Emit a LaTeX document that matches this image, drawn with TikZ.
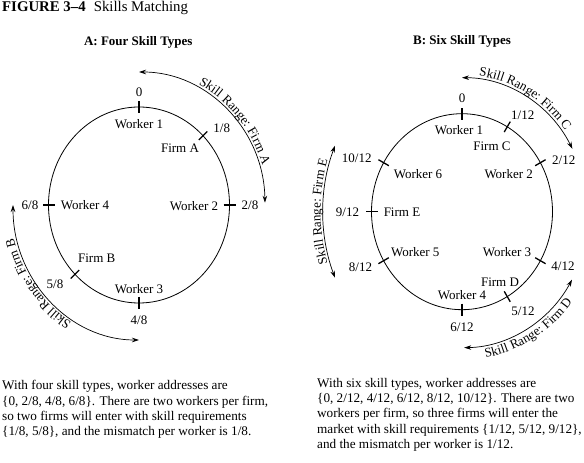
\documentclass[tikz,border=0pt]{standalone}
\usepackage{fontspec}
\setmainfont{Liberation Serif}
\usetikzlibrary{calc,arrows.meta,decorations.text}
\newcommand\lblfont{\fontsize{13}{15}\selectfont}
\newcommand\capfont{\fontsize{13.2}{15.3}\selectfont}
\begin{document}
\begin{tikzpicture}[x=1pt,y=1pt,
  lbl/.style={font=\lblfont, inner sep=0pt},
  ring/.style={line width=0.8pt},
  tickmark/.style={line width=1.3pt},
  rangearc/.style={line width=0.7pt, {Stealth[length=7pt,width=4.5pt]}-{Stealth[length=7pt,width=4.5pt]}},
  arctext/.style={decorate, decoration={text along path, text align=center, text={|\lblfont|#1}}},
  caption/.style={anchor=north west, align=left, inner sep=0pt, font=\capfont}
  ]
\useasboundingbox (0,0) rectangle (584,463);

% titles
\node[anchor=west, inner sep=0pt, font=\fontsize{14.8}{17}\selectfont] (title) at (2,454.7) {\textbf{FIGURE 3–4}\hspace{0.55em}Skills Matching};
\node[font=\lblfont\bfseries, inner sep=0pt] (headA) at (138.3,421) {A: Four Skill Types};
\node[font=\lblfont\bfseries, inner sep=0pt] (headB) at (462,422) {B: Six Skill Types};

% centres
\coordinate (cA) at (139,258);
\coordinate (cB) at (462,251.3);
\coordinate (cE) at (510.5,251.3);

% rings
\draw[ring] (cA) ellipse [x radius=90.5, y radius=98];
\draw[ring] (cB) ellipse [x radius=90.5, y radius=98];

% ticks
\foreach \t in {90,45,0,-90,-135,180}
  \draw[tickmark] ($(cA)+({84.5*cos(\t)},{92*sin(\t)})$) -- ($(cA)+({96.5*cos(\t)},{104*sin(\t)})$);
\foreach \t in {90,60,30,-30,-60,-90,-150,180,150}
  \draw[tickmark] ($(cB)+({84.5*cos(\t)},{92*sin(\t)})$) -- ($(cB)+({96.5*cos(\t)},{104*sin(\t)})$);

% range arcs panel A
\draw[rangearc] ($(cA)+(0,133)$) arc[start angle=90, end angle=1, x radius=126, y radius=133];
\draw[rangearc] ($(cA)+(-126,0)$) arc[start angle=180, end angle=270, x radius=126, y radius=135];
\path[arctext={Skill Range: Firm A}] ($(cA)+({129*cos(74)},{136*sin(74)})$) arc[start angle=74, end angle=6, x radius=129, y radius=136];
\path[arctext={Skill Range: Firm B}] ($(cA)+({129*cos(250)},{138*sin(250)})$) arc[start angle=250, end angle=183, x radius=129, y radius=138];

% range arcs panel B
\draw[rangearc] ($(cB)+(0,134)$) arc[start angle=90, end angle=28, x radius=125, y radius=134];
\draw[rangearc] ($(cB)+({127*cos(-30)},{136*sin(-30)})$) arc[start angle=-30, end angle=-89, x radius=127, y radius=136];
\draw[rangearc] ($(cE)+({187.5*cos(200.6)},{187.5*sin(200.6)})$) arc[start angle=200.6, end angle=159.4, radius=187.5];
\path[arctext={Skill Range: Firm C}] ($(cB)+({128*cos(88)},{137*sin(88)})$) arc[start angle=88, end angle=31, x radius=128, y radius=137];
\path[arctext={Skill Range: Firm D}] ($(cB)+({139*cos(-88)},{148*sin(-88)})$) arc[start angle=-88, end angle=-30, x radius=139, y radius=148];
\path[arctext={Skill Range: Firm E}] ($(cE)+({190*cos(200)},{190*sin(200)})$) arc[start angle=200, end angle=160, radius=190];

% labels panel A
\node[lbl] (a0) at (139,371) {0};
\node[lbl] (aw1) at (139,338.5) {Worker 1};
\node[lbl] (a18) at (221.7,334.7) {1/8};
\node[lbl] (afa) at (180,314.5) {Firm A};
\node[lbl] (aw2) at (194,257.3) {Worker 2};
\node[lbl] (a28) at (250,257.3) {2/8};
\node[lbl] (a68) at (30,257.5) {6/8};
\node[lbl] (aw4) at (85,257.5) {Worker 4};
\node[lbl] (afb) at (96.7,204.5) {Firm B};
\node[lbl] (a58) at (55,178.5) {5/8};
\node[lbl] (aw3) at (139,174) {Worker 3};
\node[lbl] (a48) at (139,143) {4/8};

% labels panel B
\node[lbl] (b0) at (462,364.7) {0};
\node[lbl] (bw1) at (459,333) {Worker 1};
\node[lbl] (b112) at (522.7,348) {1/12};
\node[lbl] (bfc) at (492,317) {Firm C};
\node[lbl] (b212) at (563.7,303) {2/12};
\node[lbl] (bw2) at (508.7,289) {Worker 2};
\node[lbl] (b1012) at (356.7,304.7) {10/12};
\node[lbl] (bw6) at (418,289) {Worker 6};
\node[lbl] (b912) at (347.5,251) {9/12};
\node[lbl] (bfe) at (402,251) {Firm E};
\node[lbl] (b812) at (360.5,196) {8/12};
\node[lbl] (bw5) at (415.3,211.3) {Worker 5};
\node[lbl] (bw3) at (507,211.3) {Worker 3};
\node[lbl] (b412) at (563,196.5) {4/12};
\node[lbl] (bfd) at (500,181) {Firm D};
\node[lbl] (b512) at (523,151.8) {5/12};
\node[lbl] (bw4) at (462,168) {Worker 4};
\node[lbl] (b612) at (462,136) {6/12};

% captions
\node[caption] (capA) at (2,82.6) {With four skill types, worker addresses are\\
\{0, 2/8, 4/8, 6/8\}. There are two workers per firm,\\
so two firms will enter with skill requirements\\
\{1/8, 5/8\}, and the mismatch per worker is 1/8.};
\node[caption] (capB) at (317,85) {With six skill types, worker addresses are\\
\{0, 2/12, 4/12, 6/12, 8/12, 10/12\}. There are two\\
workers per firm, so three firms will enter the\\
market with skill requirements \{1/12, 5/12, 9/12\},\\
and the mismatch per worker is 1/12.};
\end{tikzpicture}
\end{document}
